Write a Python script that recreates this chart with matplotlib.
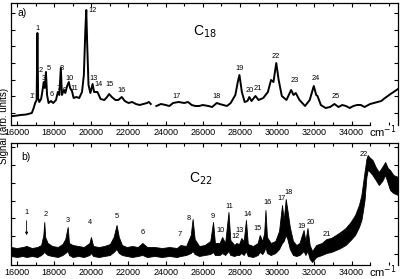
import numpy as np
import matplotlib
matplotlib.use('Agg')
import matplotlib.pyplot as plt
from matplotlib.ticker import MultipleLocator, FixedLocator

plt.rcParams['font.family'] = ['Liberation Sans', 'DejaVu Sans']

# ---- C18 spectrum (wavenumber, signal) ----
c18_x = [15680, 15830, 16200, 16500, 16800, 16900, 16980, 17060, 17100, 17140, 17200,
         17300, 17380, 17440, 17500, 17560, 17620, 17700, 17830, 17950, 18100, 18200,
         18280, 18360, 18420, 18520, 18600, 18700, 18790, 18860, 18960, 19050, 19200,
         19350, 19500, 19600, 19680, 19730, 19780, 19850, 19950, 20070, 20150, 20330,
         20500, 20700, 20850, 20960, 21100, 21300, 21450, 21640, 21800, 22000, 22200,
         22400, 22600, 22800, 23000, 23100, 23200, 23350, 23500, 23750, 24000, 24200,
         24400, 24700, 25000, 25200, 25400, 25600, 25800, 26000, 26300, 26500, 26750,
         26900, 27100, 27300, 27500, 27750, 27880, 27970, 28100, 28250, 28400, 28500,
         28620, 28830, 29000, 29250, 29500, 29670, 29800, 29950, 30080, 30250, 30500,
         30750, 30880, 31000, 31200, 31500, 31750, 31970, 32100, 32170, 32350, 32600,
         32850, 33080, 33300, 33500, 33700, 33900, 34100, 34300, 34500, 34700, 35000,
         35200, 35400, 35600, 35800, 36100, 36500]
c18_y = [9, 9, 10, 10.5, 12, 17, 22, 25, 92, 27, 23,
         26, 35, 43, 37, 53, 30, 22, 24, 22, 25, 33,
         30, 57, 30, 35, 32, 39, 43, 37, 34, 27, 28,
         27, 33, 50, 95, 115, 80, 40, 32, 41, 33, 33,
         26, 25, 28, 31, 28, 25, 25, 28, 24, 22, 23,
         21, 20, 21, 22, 23, 21, np.nan, 19, 21, 20, 19,
         22, 23, 22, 23, 20, 19, 19, 20, 19, 18, 22,
         21, 20, 19, 22, 30, 43, 50, 33, 23, 24, 28,
         24, 29, 25, 27, 33, 45, 43, 62, 45, 29, 25,
         35, 30, 32, 25, 19, 25, 39, 30, 29, 20, 17,
         18, 21, 18, 20, 19, 17, 19, 20, 20, 18, 21,
         22, 23, 24, 27, 31, 36]

c18_labels = ["1'", "1", "2", "3", "5", "6", "7", "8", "9", "10", "11", "12", "13",
              "14", "15", "16", "17", "18", "19", "20", "21", "22", "23", "24", "25"]
c18_lab_x = [16820, 17110, 17280, 17420, 17730, 17850, 18220, 18390, 18560, 18820,
             19080, 20070, 20120, 20400, 20990, 21640, 24600, 26750, 27970, 28500,
             28950, 29920, 30920, 32080, 33120]
c18_lab_y = [29, 97, 55, 47, 56, 31, 36, 56, 34, 47,
             37, 114, 47, 40, 40, 34, 28, 29, 56, 35,
             37, 68, 44, 46, 29]

# ---- C22 spectrum: noisy band, lower and upper edge ----
c22_x = [15680, 16000, 16300, 16520, 16800, 17100, 17300, 17420, 17470, 17520, 17650,
         17900, 18200, 18450, 18600, 18730, 18800, 19000, 19300, 19600, 19900, 19980,
         20100, 20400, 20700, 21000, 21200, 21360, 21480, 21650, 21900, 22200, 22500,
         22750, 23000, 23400, 23800, 24200, 24600, 24800, 25100, 25350, 25450, 25560,
         25800, 26100, 26400, 26550, 26650, 26900, 27040, 27200, 27380, 27480, 27700,
         27800, 27950, 28070, 28200, 28320, 28420, 28700, 28950, 29060, 29200, 29300,
         29370, 29450, 29650, 29900, 30100, 30260, 30350, 30460, 30550, 30680, 30850,
         31030, 31200, 31420, 31520, 31630, 31750, 31880, 32100, 32400, 32650, 32900,
         33160, 33400, 33680, 33950, 34190, 34400, 34530, 34620, 34700, 34800, 34870,
         34950, 35130, 35300, 35470, 35650, 35810, 35950, 36070, 36250, 36500]
c22_lo = [9, 8, 9, 8, 9, 8, 10, 12, 14, 12, 10,
          9, 8, 10, 12, 14, 10, 8, 9, 8, 10, 12,
          9, 8, 9, 10, 13, 16, 12, 10, 9, 8, 9,
          10, 8, 9, 8, 9, 8, 9, 10, 12, 14, 11,
          9, 10, 11, 13, 10, 10, 12, 10, 14, 10, 9,
          10, 10, 12, 10, 14, 9, 8, 10, 13, 11, 14,
          18, 12, 10, 12, 16, 22, 24, 30, 26, 16, 10,
          9, 10, 14, 10, 14, 6, 3, 8, 10, 12, 13,
          15, 17, 20, 25, 30, 38, 45, 55, 65, 88, 95,
          94, 90, 85, 80, 84, 90, 82, 75, 72, 70]
c22_hi = [18, 17, 18, 19, 17, 18, 20, 30, 43, 28, 22,
          19, 18, 21, 26, 38, 22, 20, 19, 18, 22, 28,
          19, 18, 19, 21, 28, 40, 28, 20, 18, 19, 18,
          22, 18, 18, 17, 18, 17, 20, 19, 30, 46, 26,
          19, 20, 24, 43, 22, 22, 28, 22, 53, 25, 20,
          22, 21, 27, 24, 45, 21, 19, 22, 30, 24, 32,
          55, 28, 22, 24, 34, 60, 45, 66, 55, 38, 24,
          20, 22, 35, 24, 37, 20, 14, 20, 22, 26, 27,
          30, 33, 37, 43, 50, 60, 70, 82, 93, 106, 110,
          108, 105, 98, 93, 98, 103, 97, 95, 90, 88]

c22_labels = ["2", "3", "4", "5", "6", "7", "8", "9", "10", "11", "12", "13", "14",
              "15", "16", "17", "18", "19", "20", "21", "22"]
c22_lab_x = [17560, 18730, 19940, 21360, 22750, 24770, 25250, 26530, 26970, 27440,
             27740, 28000, 28430, 28940, 29490, 30210, 30630, 31320, 31800, 32650, 34650]
c22_lab_y = [50, 45, 43, 48, 32, 30, 47, 49, 34, 59,
             28, 34, 51, 36, 62, 66, 73, 38, 42, 31, 111]

xlim = (15680, 36500)
xticks = [16000, 18000, 20000, 22000, 24000, 26000, 28000, 30000, 32000, 34000]


def style(ax, yticks):
    ax.set_xlim(*xlim)
    ax.set_ylim(0, 122)
    ax.set_xticks(xticks)
    ax.set_xticklabels([str(t) for t in xticks], fontsize=6.5)
    ax.xaxis.set_minor_locator(MultipleLocator(1000))
    ax.yaxis.set_major_locator(FixedLocator(yticks))
    ax.set_yticklabels([])
    ax.tick_params(which='both', direction='in', top=True, right=True, width=0.8)
    ax.tick_params(which='major', length=3, pad=2)
    ax.tick_params(which='minor', length=2)
    for s in ax.spines.values():
        s.set_linewidth(0.9)
    ax.spines['bottom'].set_bounds(xlim[0], 34980)
    ax.text(0.924, -0.055, 'cm$^{-1}$', transform=ax.transAxes, fontsize=8,
            ha='left', va='center')


fig = plt.figure(figsize=(4, 2.79), dpi=100)
ax1 = fig.add_axes([11/400, 154/279, 387/400, 122/279])
ax2 = fig.add_axes([11/400, 14/279, 387/400, 122/279])

# a) C18
ax1.plot(c18_x, c18_y, color='black', lw=1.4)
for t, x, y in zip(c18_labels, c18_lab_x, c18_lab_y):
    ax1.text(x, y, t, fontsize=5.3, ha='center', va='center')
style(ax1, np.arange(12, 122, 16.7))
ax1.text(0.018, 0.918, 'a)', transform=ax1.transAxes, fontsize=7.5, va='center')
ax1.text(0.47, 0.76, 'C$_{18}$', transform=ax1.transAxes, fontsize=10, va='center')

# b) C22
ax2.fill_between(c22_x, c22_lo, c22_hi, color='black', lw=0.6, edgecolor='black')
for t, x, y in zip(c22_labels, c22_lab_x, c22_lab_y):
    ax2.text(x, y, t, fontsize=5.3, ha='center', va='center')
ax2.text(16520, 53, '1', fontsize=5.3, ha='center', va='center')
ax2.annotate('', xy=(16520, 27), xytext=(16520, 47),
             arrowprops=dict(arrowstyle='-|>', color='black', lw=0.6,
                             mutation_scale=4))
style(ax2, np.arange(11, 122, 17.8))
ax2.text(0.026, 0.889, 'b)', transform=ax2.transAxes, fontsize=7.5, va='center')
ax2.text(0.46, 0.705, 'C$_{22}$', transform=ax2.transAxes, fontsize=10, va='center')

fig.text(0.0105, 0.548, 'Signal (arb. units)', rotation=90, fontsize=7,
         ha='center', va='center')

fig.savefig('out.png', dpi=100)
